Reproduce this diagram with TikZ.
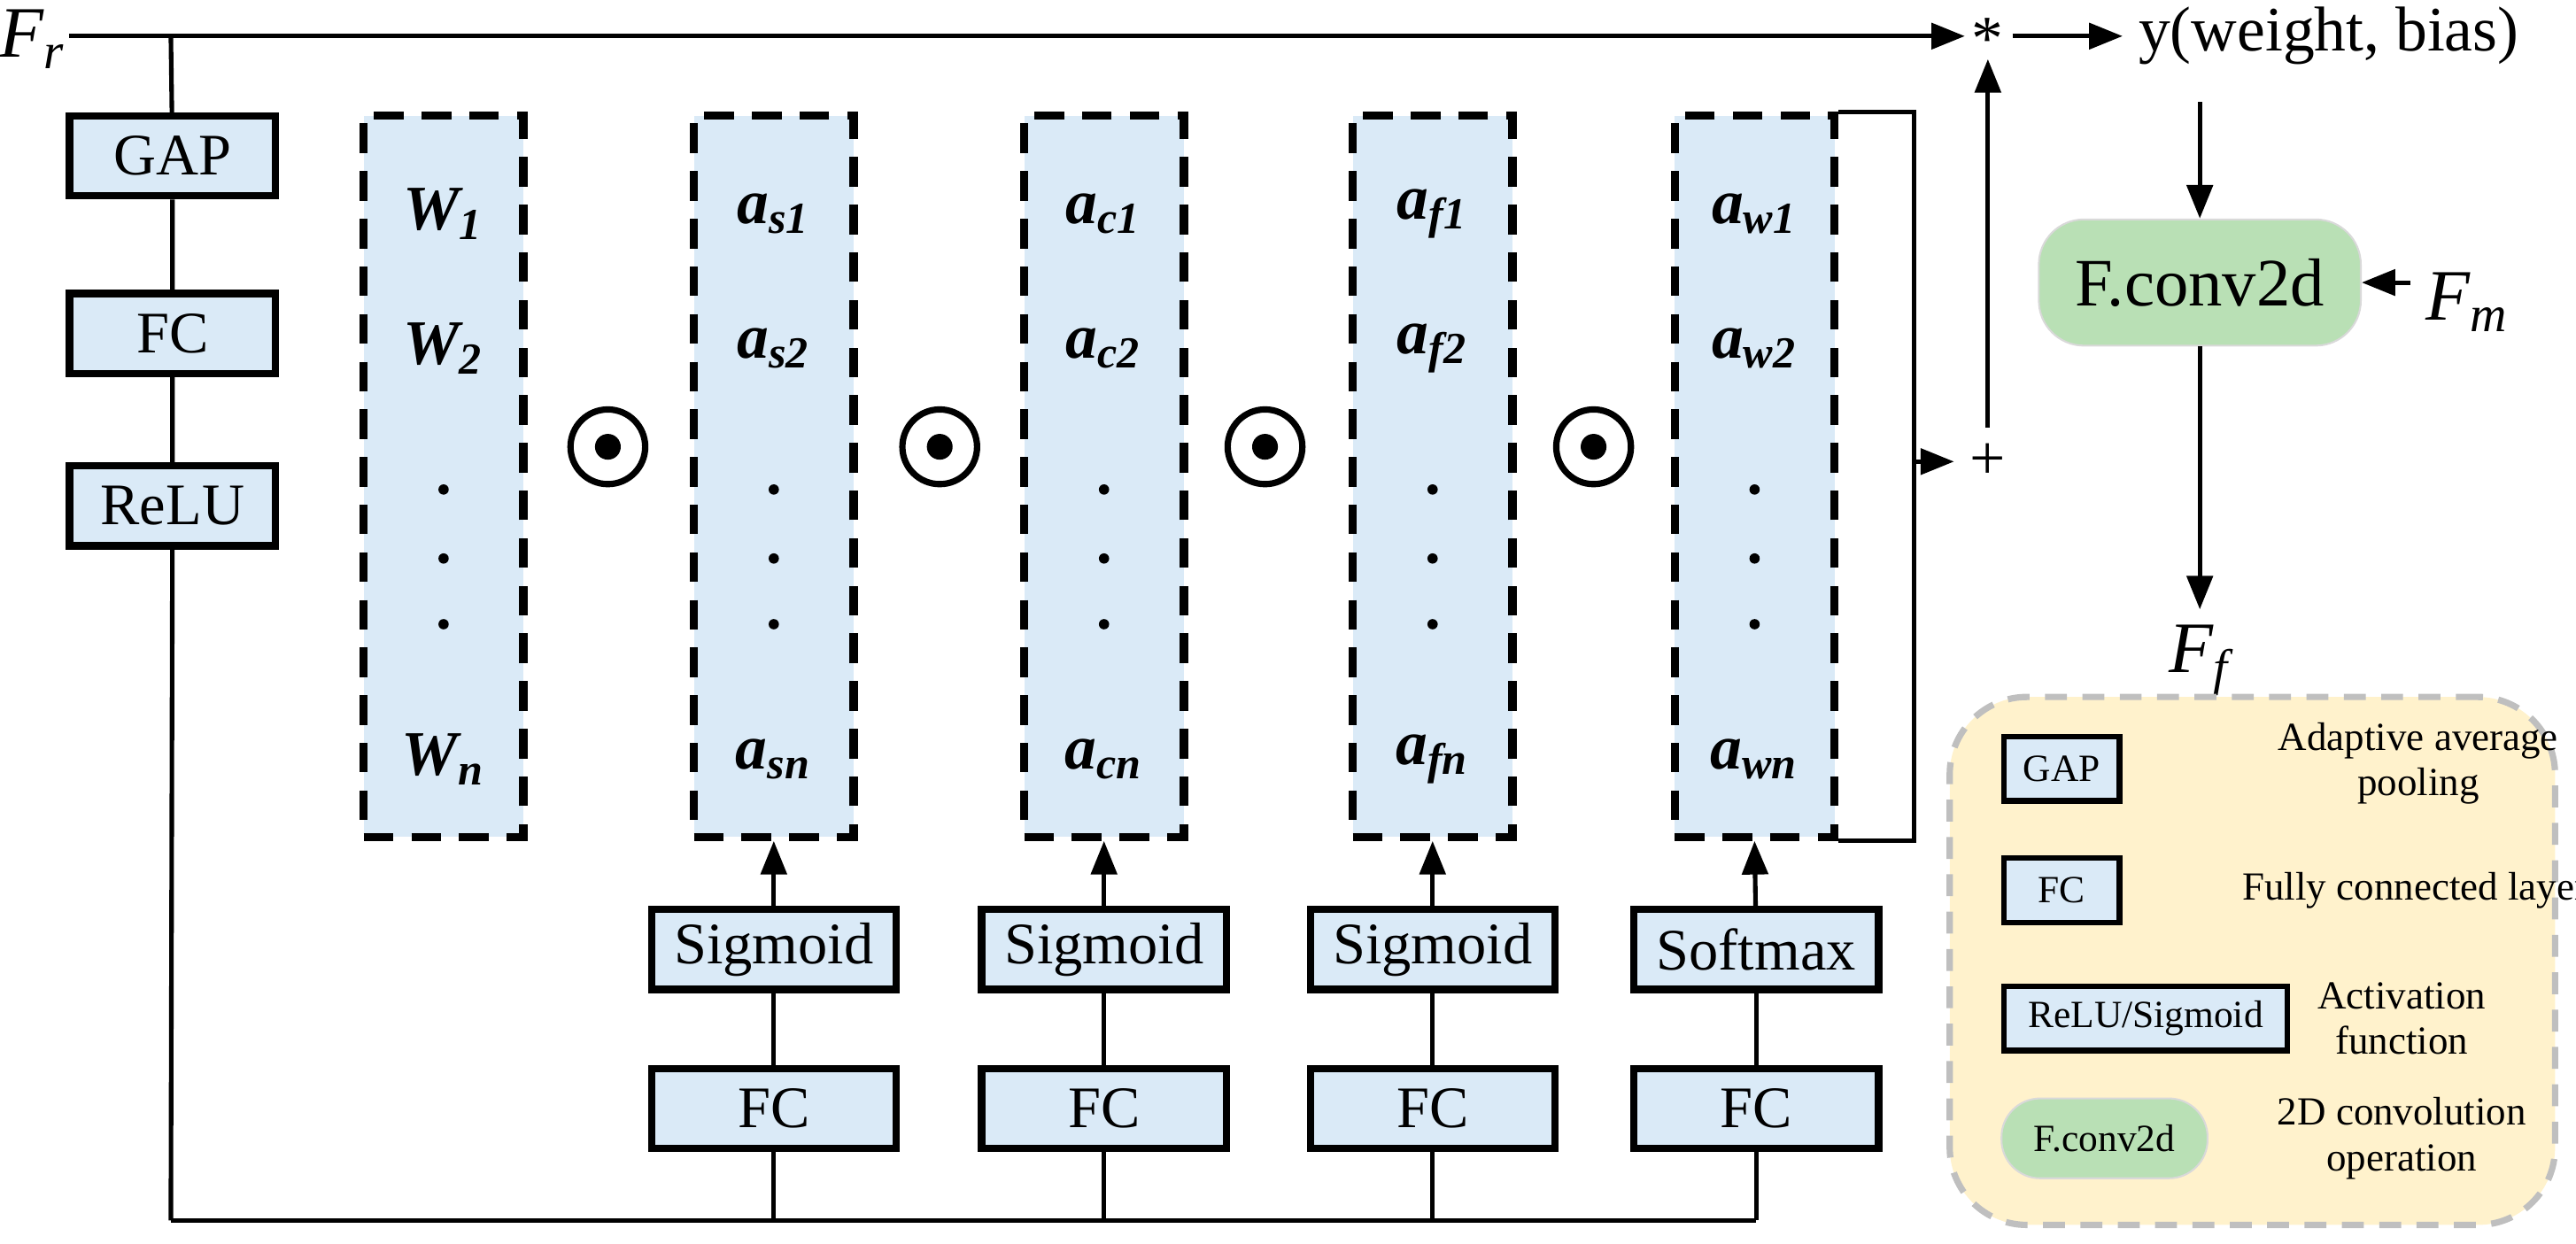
\documentclass[tikz,border=0pt]{standalone}
\usepackage{fontspec}
\setmainfont{Liberation Serif}
\usetikzlibrary{arrows.meta}
\definecolor{lb}{HTML}{DAEAF7}
\definecolor{gr}{HTML}{B9E0B5}
\definecolor{yl}{HTML}{FFF2CC}
\definecolor{gy}{HTML}{BFBFBF}
\newcommand{\cl}[2]{#1\textsubscript{#2}}
\begin{document}
\begin{tikzpicture}[x=0.01276cm,y=-0.01276cm,
  box/.style={draw,line width=1.6pt,fill=lb,minimum height=0.62cm,font=\fontsize{13}{13}\selectfont,inner sep=0pt},
  col/.style={draw,line width=1.8pt,dash pattern=on 0.23cm off 0.14cm,fill=lb,minimum width=1.24cm,minimum height=5.6cm,inner sep=0pt},
  lab/.style={font=\fontsize{14}{14}\selectfont\bfseries\itshape},
  od/.style={draw,line width=1.4pt,circle,minimum size=0.58cm,inner sep=0pt},
  ln/.style={line width=1pt},
  ar/.style={line width=1pt,-{Triangle[length=0.26cm,width=0.2cm]}},
  lg/.style={draw,line width=1.3pt,fill=lb,minimum height=0.5cm,font=\fontsize{8.5}{8.5}\selectfont,inner sep=0pt},
  lt/.style={font=\fontsize{8.8}{10}\selectfont,align=center},
  it/.style={font=\fontsize{16}{16}\selectfont\itshape}]
\useasboundingbox (0,0) rectangle (1568,757);
% top row
\node[it] (fr) at (20,24) {\cl{F}{r}};
\node[font=\fontsize{14}{14}\selectfont] (star) at (1210,24) {*};
\node[font=\fontsize{14}{14}\selectfont,anchor=west] (y) at (1292,22) {y(weight, bias)};
\coordinate (frs) at (42,22);
\coordinate (sp) at (104,22);
\draw[ar] (frs) -- (1196,22);
\draw[ar] (1225,22) -- (y.west);
% left chain
\node[box,minimum width=1.6cm] (gap) at (105,95) {GAP};
\node[box,minimum width=1.6cm] (fc0) at (105,203) {FC};
\node[box,minimum width=1.6cm] (relu) at (105,308) {ReLU};
\coordinate (bl) at (104,743);
\draw[ln] (sp) -- (gap) (gap) -- (fc0) (fc0) -- (relu) (relu) -- (bl);
% columns
\foreach \n/\x in {cw/270,cs/471,cc/672,cf/872,ca/1068}{
  \node[col] (\n) at (\x,290) {};
}
\node[lab] at (270,130) {\cl{W}{1}};
\node[lab] at (270,212) {\cl{W}{2}};
\node[lab] at (270,462) {\cl{W}{n}};
\foreach \x/\s in {471/s,672/c,872/f,1068/w}{
  \node[lab] at (\x,130) {\cl{a}{\s1}};
  \node[lab] at (\x,212) {\cl{a}{\s2}};
  \node[lab] at (\x,462) {\cl{a}{\s n}};
}
\foreach \x in {270,471,672,872,1068}{
  \foreach \yy in {298,340,380}{ \fill (\x,\yy) circle (0.04cm); }
}
\foreach \n/\x in {o1/370,o2/572,o3/770,o4/970}{
  \node[od] (\n) at (\x,272) {}; \fill (\x,272) circle (0.1cm);
}
% bottom chain
\draw[ln] (bl) -- (1069,743);
\foreach \i/\x/\t in {s/471/Sigmoid,c/672/Sigmoid,f/872/Sigmoid,w/1069/Softmax}{
  \node[box,minimum width=1.9cm] (act\i) at (\x,578) {\t};
  \node[box,minimum width=1.9cm] (fc\i) at (\x,675) {FC};
  \coordinate (b\i) at (\x,743);
  \draw[ln] (b\i) -- (fc\i) (fc\i) -- (act\i);
}
\draw[ar] (acts) -- (cs.south);
\draw[ar] (actc) -- (cc.south);
\draw[ar] (actf) -- (cf.south);
\draw[ar] (actw) -- (ca.south);
% feedback
\node[font=\fontsize{14}{14}\selectfont] (plus) at (1210,281) {+};
\coordinate (fx) at (1165,281);
\draw[ln] (ca.north east) -- (ca.north east -| fx) -- (ca.south east -| fx) -- (ca.south east);
\draw[ar] (fx) -- (plus.west);
\draw[ar] (plus.north) -- (1210,36);
% conv
\node[draw=gy!60,line width=0.4pt,fill=gr,rounded corners=0.35cm,minimum width=2.5cm,minimum height=0.98cm,font=\fontsize{15}{15}\selectfont] (conv) at (1339,172) {F.conv2d};
\node[it] (fmm) at (1502,184) {\cl{F}{m}};
\node[it] (ff) at (1339,402) {\cl{F}{f}};
\coordinate (ys) at (1339,62);
\draw[ar] (fmm.west |- conv.east) -- (conv.east);
\draw[ar] (ys) -- (conv.north);
\draw[ar] (conv.south) -- (ff.north);
% legend
\node[draw=gy,line width=1.4pt,dash pattern=on 0.17cm off 0.12cm,fill=yl,rounded corners=0.6cm,minimum width=4.7cm,minimum height=4.1cm] (leg) at (1371,585) {};
\node[lg,minimum width=0.9cm] (l1) at (1255,468) {GAP};
\node[lt] at (1472,465) {Adaptive average\\pooling};
\node[lg,minimum width=0.9cm] (l2) at (1255,542) {FC};
\node[lt] at (1470,542) {Fully connected layer};
\node[lg,minimum width=2.2cm] (l3) at (1306,620) {ReLU/Sigmoid};
\node[lt] at (1462,620) {Activation\\function};
\node[fill=gr,draw=gy!60,line width=0.4pt,rounded corners=0.3cm,minimum width=1.6cm,minimum height=0.62cm,inner sep=0pt,font=\fontsize{8.5}{8.5}\selectfont] (l4) at (1281,693) {F.conv2d};
\node[lt] at (1462,693) {2D convolution\\operation};
\end{tikzpicture}
\end{document}
